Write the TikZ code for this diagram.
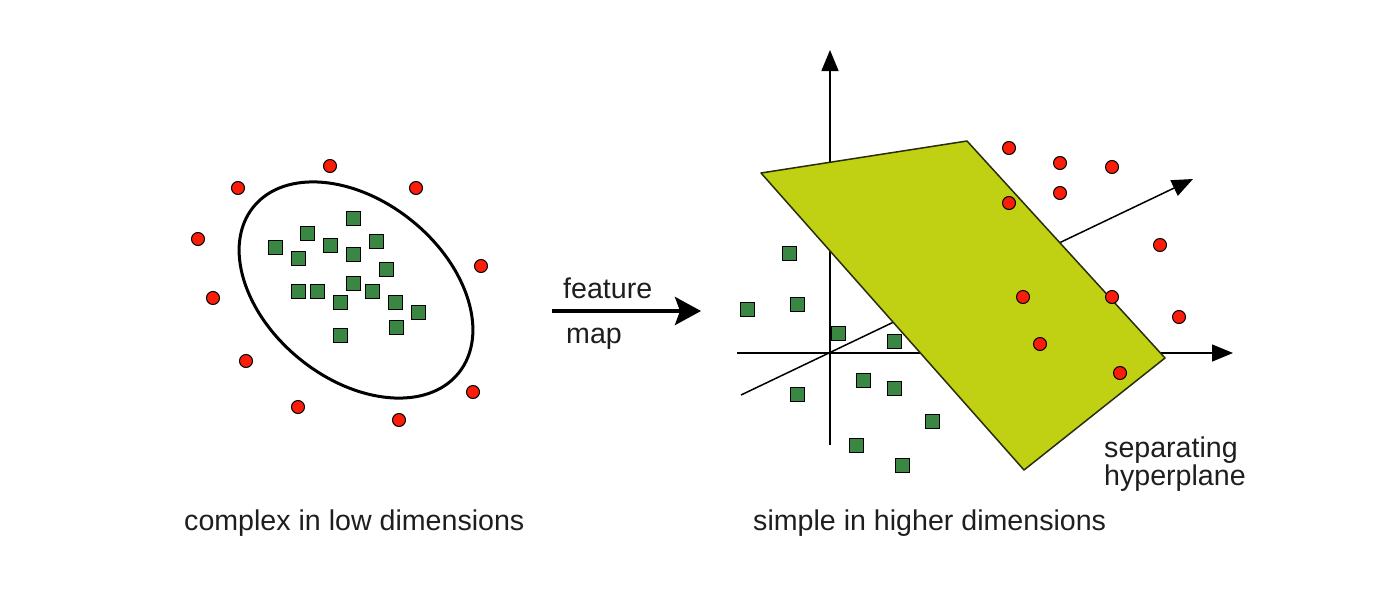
\documentclass[tikz,border=0pt]{standalone}
\usepackage{fontspec}
\setmainfont{Liberation Sans}
\usetikzlibrary{arrows.meta}
\definecolor{dotred}{RGB}{250,30,10}
\definecolor{sqgreen}{RGB}{58,135,68}
\definecolor{planefill}{RGB}{192,208,18}
\definecolor{planeedge}{RGB}{40,45,10}
\definecolor{txt}{RGB}{30,30,30}
\tikzset{
  rdot/.style={circle,draw=black,fill=dotred,line width=1pt,minimum size=13pt,inner sep=0pt},
  gsq/.style={rectangle,draw=black,fill=sqgreen,line width=1pt,minimum size=14pt,inner sep=0pt},
  axis/.style={line width=1.5pt,-{Triangle[length=21pt,width=17pt]}},
  lbl/.style={anchor=base west,inner sep=0pt,text=txt,font=\fontsize{28.6}{33}\selectfont},
}
\begin{document}
\begin{tikzpicture}[x=1pt,y=-1pt]
\useasboundingbox (0,0) rectangle (1400,605);
% ---------- left: low dimensions ----------
\coordinate (ec) at (356,290);
\draw[line width=3pt,rotate around={-39:(ec)}] (ec) ellipse [x radius=132pt, y radius=89pt];
\foreach \n/\x/\y in {1/330/166,2/238/188,3/416/188,4/198/239,5/481/266,6/213/298,7/246/361,8/473/392,9/298/407,10/399/420}
  \node[rdot] (lr\n) at (\x,\y) {};
\foreach \n/\x/\y in {1/353/218,2/307/233,3/330/245,4/376/241,5/275/247,6/298/258,7/353/254,8/386/269,9/353/283,10/298/291,11/317/291,12/372/291,13/340/302,14/395/302,15/418/312,16/396/327,17/340/335}
  \node[gsq] (lg\n) at (\x,\y) {};
\node[lbl] (lowlbl) at (184,530) {complex in low dimensions};
% ---------- feature map arrow ----------
\coordinate (fa) at (552,311);
\coordinate (fb) at (701,311);
\draw[line width=4pt,-{Stealth[length=26pt,width=28pt,inset=5pt]}] (fa) -- (fb);
\node[lbl] (feat) at (563,298) {feature};
\node[lbl] (map) at (566,343) {map};
% ---------- right: higher dimensions ----------
\coordinate (vb) at (830,445);
\coordinate (vt) at (830,50);
\coordinate (hl) at (737,353);
\coordinate (hr) at (1233,353);
\coordinate (ds) at (741,395);
\coordinate (dt) at (1193,179);
\draw[axis] (vb) -- (vt);
\draw[axis] (hl) -- (hr);
\draw[axis] (ds) -- (dt);
\coordinate (p1) at (761,173);
\coordinate (p2) at (967,141);
\coordinate (p3) at (1165,358);
\coordinate (p4) at (1024,470);
\draw[fill=planefill,draw=planeedge,line width=1.5pt,line join=round] (p1) -- (p2) -- (p3) -- (p4) -- cycle;
\foreach \n/\x/\y in {1/1009/148,2/1060/163,3/1112/167,4/1060/193,5/1009/203,6/1160/245,7/1023/297,8/1112/297,9/1179/317,10/1040/344,11/1120/373}
  \node[rdot] (rr\n) at (\x,\y) {};
\foreach \n/\x/\y in {1/789/253,2/797/304,3/747/309,4/838/333,5/894/341,6/863/380,7/894/388,8/797/394,9/932/421,10/856/445,11/902/465}
  \node[gsq] (rg\n) at (\x,\y) {};
\node[lbl] (sep1) at (1104,457) {separating};
\node[lbl] (sep2) at (1104,485) {hyperplane};
\node[lbl] (highlbl) at (753,530) {simple in higher dimensions};
\end{tikzpicture}
\end{document}
